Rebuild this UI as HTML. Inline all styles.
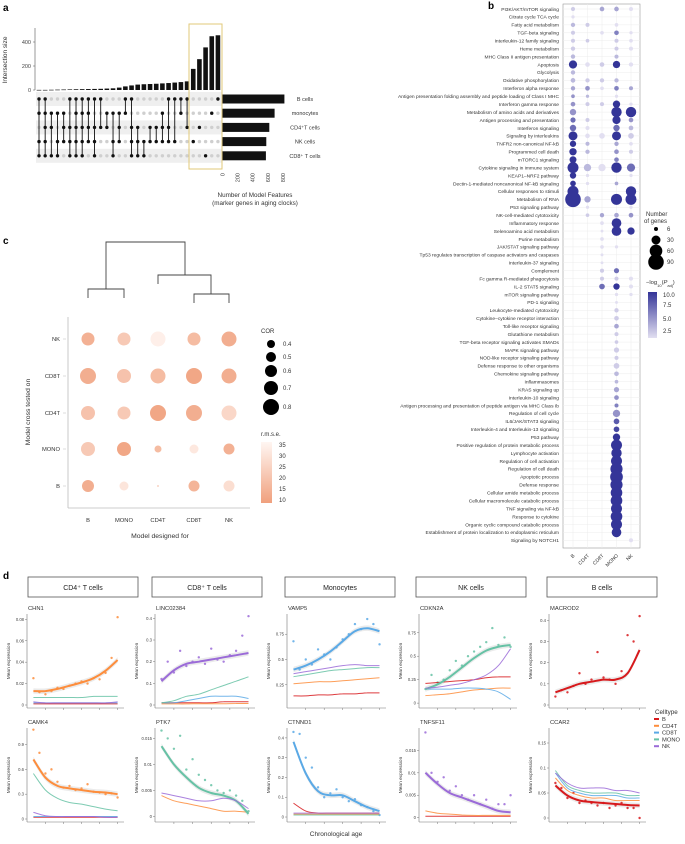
<!DOCTYPE html>
<html><head><meta charset="utf-8"><style>
body{margin:0;background:#fff}
svg{display:block;font-family:"Liberation Sans",sans-serif}
</style></head><body>
<svg id="fig" width="685" height="844" viewBox="0 0 685 844" xmlns="http://www.w3.org/2000/svg"></svg>
<script>
// ===== Panel a data =====
const aBars = [1,1,2,3,4,5,6,7,8,9,10,12,14,20,30,38,45,48,50,52,55,58,62,66,72,176,257,355,448,456];
const aSets = [[0,1,3,4],[0,1,2,3,4],[1,2,4],[1,3,4],[1,2,3],[0,2,3,4],[0,1,2,3,4],[0,1,2,3,4],[0,1,2,3],[0,2,3,4],[0,2],[1,2],[1,3,4],[1,2,3],[0,1],[0,2,3,4],[2,3,4],[3,4],[2,3],[2,3],[1,2,3],[0,2,3],[0,3],[0,1],[0,2],[3],[2],[4],[1],[0]];
const aRows = ["B cells","monocytes","CD4⁺T cells","NK cells","CD8⁺ T cells"];
const aRowTotals = [820,690,620,580,575];
const aYTicks = [0,200,400];
const aXTicks = [0,200,400,600,800];
// ===== Panel b data =====
const bTerms = ["PI3K/AKT/mTOR signaling","Citrate cycle TCA cycle","Fatty acid metabolism","TGF-beta signaling","Interleukin-12 family signaling","Heme metabolism","MHC Class II antigen presentation","Apoptosis","Glycolysis","Oxidative phosphorylation","Interferon alpha response","Antigen presentation folding assembly and peptide loading of Class I MHC","Interferon gamma response","Metabolism of amino acids and derivatives","Antigen processing and presentation","Interferon signaling","Signaling by interleukins","TNFR2 non-canonical NF-kB","Programmed cell death","mTORC1 signaling","Cytokine signaling in immune system","KEAP1–NRF2 pathway","Dectin-1-mediated noncanonical NF-kB signaling","Cellular responses to stimuli","Metabolism of RNA","P53 signaling pathway","NK-cell-mediated cytotoxicity","Inflammatory response","Selenoamino acid metabolism","Purine metabolism","JAK/STAT signaling pathway","Tp53 regulates transcription of caspase activators and caspases","Interleukin-37 signaling","Complement","Fc gamma R-mediated phagocytosis","IL-2 STAT5 signaling","mTOR signaling pathway","PD-1 signaling","Leukocyte-mediated cytotoxicity","Cytokine–cytokine receptor interaction","Toll-like receptor signaling","Glutathione metabolism","TGF-beta receptor signaling activates SMADs","MAPK signaling pathway","NOD-like receptor signaling pathway","Defense response to other organisms","Chemokine signaling pathway","Inflammasomes","KRAS signaling up","Interleukin-10 signaling","Antigen processing and presentation of peptide antigen via MHC Class Ib","Regulation of cell cycle","IL6/JAK/STAT3 signaling","Interleukin-4 and Interleukin-13 signaling","P53 pathway","Positive regulation of protein metabolic process","Lymphocyte activation","Regulation of cell activation","Regulation of cell death","Apoptotic process","Defense response","Cellular amide metabolic process","Cellular macromolecule catabolic process","TNF signaling via NF-kB","Response to cytokine","Organic cyclic compound catabolic process","Establishment of protein localization to endoplasmic reticulum","Signaling by NOTCH1"];
const bCols = ["B","CD4T","CD8T","MONO","NK"];
const bSize = [[6,0,8,8,6],[4,0,0,0,0],[7,6,0,5,0],[6,0,5,8,4],[6,5,0,6,5],[7,0,0,6,6],[7,0,0,6,0],[25,8,8,20,7],[7,0,0,0,0],[8,7,7,7,0],[7,8,5,8,6],[5,4,0,4,0],[8,6,6,20,4],[15,0,0,40,40],[10,6,0,25,8],[15,6,0,15,8],[30,8,12,30,12],[15,6,0,7,5],[20,7,0,8,6],[18,0,0,8,0],[45,20,20,40,25],[15,4,0,0,4],[12,4,0,5,0],[45,0,0,0,40],[90,15,0,45,45],[0,4,0,0,4],[0,5,7,8,8],[0,0,5,35,0],[0,0,3,35,20],[0,0,5,0,0],[0,0,5,4,0],[0,0,3,0,0],[0,0,3,0,0],[0,0,6,10,0],[0,0,6,6,6],[0,0,12,15,6],[0,0,0,4,4],[0,0,0,3,0],[0,0,0,7,0],[0,0,0,8,0],[0,0,0,8,0],[0,0,0,6,0],[0,0,0,5,0],[0,0,0,10,0],[0,0,0,6,0],[0,0,0,12,0],[0,0,0,8,0],[0,0,0,5,0],[0,0,0,10,0],[0,0,0,8,0],[0,0,0,6,0],[0,0,0,20,0],[0,0,0,12,0],[0,0,0,12,0],[0,0,0,20,0],[0,0,0,45,0],[0,0,0,40,0],[0,0,0,45,0],[0,0,0,55,0],[0,0,0,60,0],[0,0,0,55,0],[0,0,0,50,0],[0,0,0,50,0],[0,0,0,45,0],[0,0,0,50,0],[0,0,0,45,0],[0,0,0,35,0],[0,0,0,0,6]];
const bSig = [[2,0,4,4,1],[1,0,0,0,0],[3,2,0,1,0],[2,0,1,6,1],[2,2,0,2,1],[2,0,0,2,1],[3,0,0,3,0],[10,1,2,10,1],[3,0,0,0,0],[3,2,2,3,0],[4,5,1,6,4],[5,3,0,1,0],[5,2,2,10,1],[5,0,0,10,10],[7,2,0,10,5],[7,1,0,7,3],[10,1,1,10,2],[10,3,0,4,1],[10,3,0,5,2],[10,0,0,6,0],[10,3,1,10,7],[10,1,0,0,1],[10,1,0,4,0],[10,0,0,0,10],[10,4,0,10,10],[0,1,0,0,1],[0,2,4,4,5],[0,0,1,10,0],[0,0,1,10,10],[0,0,1,0,0],[0,0,1,1,0],[0,0,1,0,0],[0,0,1,0,0],[0,0,2,7,0],[0,0,2,2,1],[0,0,7,10,1],[0,0,0,1,1],[0,0,0,1,0],[0,0,0,2,0],[0,0,0,2,0],[0,0,0,4,0],[0,0,0,2,0],[0,0,0,2,0],[0,0,0,2,0],[0,0,0,2,0],[0,0,0,2,0],[0,0,0,3,0],[0,0,0,3,0],[0,0,0,4,0],[0,0,0,5,0],[0,0,0,6,0],[0,0,0,5,0],[0,0,0,8,0],[0,0,0,9,0],[0,0,0,10,0],[0,0,0,10,0],[0,0,0,10,0],[0,0,0,10,0],[0,0,0,10,0],[0,0,0,10,0],[0,0,0,10,0],[0,0,0,10,0],[0,0,0,10,0],[0,0,0,10,0],[0,0,0,10,0],[0,0,0,10,0],[0,0,0,10,0],[0,0,0,0,1]];
// ===== Panel c data =====
const cCols = ["B","MONO","CD4T","CD8T","NK"];
const cRows = ["NK","CD8T","CD4T","MONO","B"];
const cCor = [[0.65,0.65,0.75,0.65,0.75],[0.8,0.7,0.75,0.8,0.75],[0.7,0.65,0.8,0.8,0.75],[0.7,0.7,0.35,0.45,0.55],[0.6,0.45,0.1,0.55,0.55]];
const cRmse = [[15,22,33,18,14],[14,20,18,12,14],[20,22,12,14,26],[22,12,18,31,15],[14,30,25,16,28]];
// ===== Panel d data =====
const dAges = [20,30,40,50,60,70,80,90];
const dScAges = [20,25,30,35,40,45,50,55,60,65,70,75,80,85,90];
const dTypes = ["B","CD4T","CD8T","MONO","NK"];
const dColors = ["#d7191c","#fd8d3c","#5aa9e6","#66c2a5","#9b6bd8"];
const dPanels = [
 {gene:"CHN1",max:0.085,min:0,ticks:[0,0.02,0.04,0.06,0.08],hi:1,
  B:[.001,.001,.001,.001,.001,.001,.001,.001],CD4T:[.013,.013,.015,.018,.021,.025,.032,.042],CD8T:[.002,.002,.002,.002,.002,.002,.002,.002],MONO:[.007,.007,.007,.007,.007,.008,.008,.008],NK:[.003,.002,.002,.002,.002,.002,.002,.003],
  sc:[.025,.012,.010,.013,.016,.015,.018,.020,.022,.020,.025,.024,.030,.044,.082]},
 {gene:"LINC02384",max:0.42,min:0,ticks:[0,0.1,0.2,0.3,0.4],hi:4,
  B:[.01,.01,.01,.01,.01,.015,.015,.015],CD4T:[.005,.005,.005,.006,.006,.006,.007,.007],CD8T:[.01,.01,.02,.03,.04,.04,.04,.03],MONO:[.01,.02,.04,.05,.07,.09,.11,.13],NK:[.11,.16,.19,.20,.21,.22,.23,.24],
  sc:[.12,.20,.15,.25,.18,.20,.22,.19,.26,.21,.20,.23,.25,.32,.41]},
 {gene:"VAMP5",max:0.95,min:0.05,ticks:[0.25,0.5,0.75],hi:2,
  B:[.14,.14,.15,.15,.16,.16,.17,.17],CD4T:[.26,.27,.28,.28,.29,.30,.31,.32],CD8T:[.40,.44,.50,.58,.68,.78,.81,.78],MONO:[.33,.35,.37,.39,.40,.41,.42,.42],NK:[.36,.38,.40,.42,.44,.45,.44,.44],
  sc:[.68,.40,.50,.45,.60,.55,.50,.62,.70,.75,.85,.80,.90,.85,.65]},
 {gene:"CDKN2A",max:0.95,min:-0.02,ticks:[0,0.25,0.5,0.75],hi:3,
  B:[.21,.22,.23,.24,.25,.27,.28,.28],CD4T:[.08,.09,.10,.12,.14,.15,.16,.16],CD8T:[.15,.15,.15,.16,.16,.15,.12,.04],MONO:[.15,.20,.28,.38,.48,.56,.60,.62],NK:[.16,.17,.19,.21,.25,.30,.40,.58],
  sc:[.15,.30,.22,.25,.35,.45,.40,.50,.55,.60,.65,.80,.62,.70,.60]},
 {gene:"MACROD2",max:0.43,min:0,ticks:[0,0.1,0.2,0.3,0.4],hi:0,
  B:[.06,.08,.10,.11,.12,.12,.15,.26],CD4T:null,CD8T:null,MONO:null,NK:null,
  sc:[.04,.07,.06,.09,.15,.10,.12,.25,.13,.12,.10,.16,.33,.30,.42]},
 {gene:"CAMK4",max:1.1,min:0,ticks:[0,0.3,0.6,0.9],hi:1,
  B:[.02,.02,.02,.02,.02,.02,.02,.02],CD4T:[.72,.50,.40,.37,.35,.33,.32,.30],CD8T:[.03,.03,.03,.03,.03,.03,.03,.03],MONO:[.55,.35,.25,.20,.18,.15,.12,.10],NK:[.08,.04,.03,.03,.03,.03,.02,.02],
  sc:[1.08,.80,.55,.60,.45,.38,.40,.35,.37,.42,.33,.32,.30,.31,.26]},
 {gene:"PTK7",max:0.017,min:-0.0005,ticks:[0,0.005,0.010,0.015],hi:3,
  B:null,CD4T:[.004,.003,.0025,.002,.0015,.001,.001,.0008],CD8T:null,MONO:[.0135,.010,.0075,.0055,.0045,.004,.003,.0005],NK:[.0045,.004,.0035,.003,.003,.0035,.003,.0015],
  sc:[.0165,.015,.013,.0155,.009,.011,.008,.007,.006,.005,.0045,.005,.004,.003,.001]},
 {gene:"CTNND1",max:0.45,min:-0.01,ticks:[0,0.1,0.2,0.3,0.4],hi:2,
  B:[.07,.03,.02,.02,.02,.02,.02,.02],CD4T:[.015,.015,.015,.015,.015,.015,.015,.015],CD8T:[.38,.22,.13,.11,.11,.08,.05,.03],MONO:[.01,.01,.01,.01,.01,.01,.01,.01],NK:[.02,.02,.02,.02,.02,.02,.02,.02],
  sc:[.43,.42,.30,.25,.15,.10,.12,.14,.10,.08,.09,.06,.05,.03,.01]},
 {gene:"TNFSF11",max:0.02,min:-0.0003,ticks:[0,0.005,0.010,0.015],hi:4,
  B:[.0003,.0003,.0003,.0003,.0003,.0003,.0003,.0003],CD4T:[.0015,.001,.0008,.0006,.0005,.0005,.0005,.0005],CD8T:null,MONO:null,NK:[.010,.0075,.0055,.0045,.0035,.0025,.0015,.0012],
  sc:[.019,.010,.008,.009,.006,.007,.005,.004,.005,.003,.004,.002,.003,.003,.005]},
 {gene:"CCAR2",max:0.18,min:-0.002,ticks:[0,0.05,0.10,0.15],hi:0,
  B:[.065,.045,.035,.032,.030,.028,.026,.025],CD4T:[.08,.055,.045,.04,.04,.035,.035,.035],CD8T:[.09,.06,.05,.045,.045,.045,.04,.04],MONO:[.095,.065,.055,.05,.05,.05,.045,.045],NK:[.09,.07,.06,.06,.06,.055,.055,.05],
  sc:[.07,.06,.04,.05,.03,.035,.03,.025,.03,.02,.025,.03,.02,.02,.0]}
];
const dStrips = ["CD4⁺ T cells","CD8⁺ T cells","Monocytes","NK cells","B cells"];

// ===== helpers =====
const NS="http://www.w3.org/2000/svg";
const svg=document.getElementById('fig');
function mk(tag,attrs,name,parent){
  const el=document.createElementNS(NS,tag);
  for(const k in attrs) el.setAttribute(k,attrs[k]);
  
  
  (parent||svg).appendChild(el);
  return el;
}
function tx(x,y,s,size,anchor,name,extra,parent){
  const a=Object.assign({x:x,y:y,'font-size':size,'text-anchor':anchor||'start',fill:'#222'},extra||{});
  const el=mk('text',a,name,parent);
  el.textContent=s;
  return el;
}
function smooth(pts){
  let d='M'+pts[0][0].toFixed(1)+' '+pts[0][1].toFixed(1);
  for(let i=0;i<pts.length-1;i++){
    const p0=pts[Math.max(0,i-1)],p1=pts[i],p2=pts[i+1],p3=pts[Math.min(pts.length-1,i+2)];
    const c1=[p1[0]+(p2[0]-p0[0])/6,p1[1]+(p2[1]-p0[1])/6];
    const c2=[p2[0]-(p3[0]-p1[0])/6,p2[1]-(p3[1]-p1[1])/6];
    d+=`C${c1[0].toFixed(1)} ${c1[1].toFixed(1)} ${c2[0].toFixed(1)} ${c2[1].toFixed(1)} ${p2[0].toFixed(1)} ${p2[1].toFixed(1)}`;
  }
  return d;
}
tx(3,11,"a",10,"start","panel-label-a",{'font-weight':'bold',fill:'#000'});
tx(488,9,"b",10,"start","panel-label-b",{'font-weight':'bold',fill:'#000'});
tx(3,244,"c",10,"start","panel-label-c",{'font-weight':'bold',fill:'#000'});
tx(3,579,"d",10,"start","panel-label-d",{'font-weight':'bold',fill:'#000'});

// ===== Panel a =====
(function(){
  const g=mk('g',{},'upset-plot');
  const colX=i=>39+i*6.17;
  const yBar=v=>90-v*0.12;
  const rowY=r=>99+r*14.2;
  [0,2,4].forEach(r=>mk('rect',{x:36,y:rowY(r)-7,width:186,height:14,fill:'#efefef'},'matrix-row-shade',g));
  mk('line',{x1:35,y1:28,x2:35,y2:90,stroke:'#555','stroke-width':0.6},'intersection-y-axis',g);
  aYTicks.forEach(t=>{
    mk('line',{x1:33,y1:yBar(t),x2:35,y2:yBar(t),stroke:'#555','stroke-width':0.5},'y-tick',g);
    tx(31,yBar(t)+2,String(t),5.5,'end','y-tick-label',{fill:'#444'},g);
  });
  tx(7,60,"Intersection size",6.5,'middle','intersection-y-title',{transform:'rotate(-90 7 60)',fill:'#333'},g);
  aBars.forEach((v,i)=>{
    mk('rect',{x:colX(i)-2.3,y:yBar(v),width:4.6,height:Math.max(0.6,v*0.12),fill:'#111'},'intersection-bar',g);
  });
  aSets.forEach((s,i)=>{
    for(let r=0;r<5;r++){
      const on=s.includes(r);
      mk('circle',{cx:colX(i),cy:rowY(r),r:1.7,fill:on?'#111':'#cfcfcf'},on?'matrix-dot-filled':'matrix-dot-empty',g);
    }
    if(s.length>1){
      mk('line',{x1:colX(i),y1:rowY(Math.min(...s)),x2:colX(i),y2:rowY(Math.max(...s)),stroke:'#111','stroke-width':0.9},'matrix-connector',g);
    }
  });
  mk('rect',{x:189,y:24,width:33,height:145,fill:'none',stroke:'#e2c97a','stroke-width':1},'highlight-box',g);
  const xs=v=>222.5+v*0.0755;
  aRowTotals.forEach((v,r)=>{
    mk('rect',{x:222.5,y:rowY(r)-4.5,width:xs(v)-222.5,height:9,fill:'#111'},'set-size-bar',g);
    tx(305,rowY(r)+2,aRows[r],5.5,'middle','set-label',{fill:'#333'},g);
  });
  aXTicks.forEach(t=>{
    tx(xs(t)+2,173,String(t),5.5,'end','set-size-tick-label',{transform:`rotate(-90 ${xs(t)+2} 173)`,fill:'#444'},g);
  });
  tx(255,197,"Number of Model Features",6.3,'middle','set-size-axis-title',{fill:'#333'},g);
  tx(255,205,"(marker genes in aging clocks)",6.3,'middle','set-size-axis-subtitle',{fill:'#333'},g);
})();

// ===== Panel b =====
(function(){
  const g=mk('g',{},'enrichment-dotplot');
  const x0=563,x1=640,yTop=4,yBot=548;
  const colX=c=>573+c*14.5;
  const rowY=r=>9+r*7.93;
  mk('rect',{x:x0,y:yTop,width:x1-x0,height:yBot-yTop,fill:'#fff',stroke:'#999','stroke-width':0.6},'dotplot-frame',g);
  bCols.forEach((c,i)=>mk('line',{x1:colX(i),y1:yTop,x2:colX(i),y2:yBot,stroke:'#ececec','stroke-width':0.5},'grid-v',g));
  bTerms.forEach((t,r)=>{
    mk('line',{x1:x0,y1:rowY(r),x2:x1,y2:rowY(r),stroke:'#ececec','stroke-width':0.5},'grid-h',g);
    tx(559,rowY(r)+1.8,t,4.9,'end','term-label',{fill:'#333'},g);
  });
  const col=v=>{const f=Math.min(1,Math.max(0,(v-1)/9));
    const a=[226,223,241],b=[52,53,152];
    return `rgb(${a.map((q,i)=>Math.round(q+(b[i]-q)*f)).join(',')})`;};
  bSize.forEach((row,r)=>row.forEach((n,c)=>{
    if(n>0) mk('circle',{cx:colX(c),cy:rowY(r),r:0.82*Math.sqrt(n),fill:col(bSig[r][c])},'enrichment-dot',g);
  }));
  bCols.forEach((c,i)=>tx(colX(i)+2,556,c,5,'end','celltype-x-label',{transform:`rotate(-45 ${colX(i)+2} 556)`,fill:'#333'},g));
  tx(646,216,"Number",6,'start','size-legend-title',{fill:'#333'},g);
  tx(644,223,"of genes",6,'start','size-legend-title2',{fill:'#333'},g);
  [6,30,60,90].forEach((n,i)=>{
    const y=229+i*11;
    mk('circle',{cx:656,cy:y,r:0.82*Math.sqrt(n),fill:'#000'},'size-legend-dot',g);
    tx(667,y+2.2,String(n),6,'start','size-legend-label',{fill:'#333'},g);
  });
  const lt=mk('text',{x:646,y:284,'font-size':5.8,fill:'#333'},'color-legend-title',g);
  const parts=[["−log",0,5.8],["10",1.5,4],["(",0,5.8],["P",0,5.8],["adj",1.5,4],[")",0,5.8]];
  parts.forEach(p=>{const s=mk('tspan',{dy:0,'font-size':p[2],'baseline-shift':p[1]?'sub':'baseline','font-style':p[0]==='P'?'italic':'normal'},'legend-title-part',lt); s.textContent=p[0];});
  const gr=mk('linearGradient',{id:'bgrad',x1:0,y1:0,x2:0,y2:1},'gradient',mk('defs',{},'defs',g));
  mk('stop',{offset:'0',"stop-color":col(10)},'stop',gr);
  mk('stop',{offset:'1',"stop-color":col(1)},'stop',gr);
  mk('rect',{x:648,y:292,width:9,height:46,fill:'url(#bgrad)'},'color-legend-bar',g);
  [["10.0",295],["7.5",305],["5.0",319],["2.5",331]].forEach(a=>tx(663,a[1]+2,a[0],6,'start','color-legend-label',{fill:'#333'},g));
})();

// ===== Panel c =====
(function(){
  const g=mk('g',{},'cross-test-plot');
  const colX=[88,124,158,194,229];
  const rowY=[339,376,413,449,486];
  const st={stroke:'#444','stroke-width':0.9,fill:'none'};
  const dp=(d)=>mk('path',Object.assign({d:d},st),'dendrogram-branch',g);
  dp(`M106 289V242H185V275`);
  dp(`M88 298V289H124V298`);
  dp(`M158 284V275H211V294`);
  dp(`M194 303V294H229V303`);
  mk('line',{x1:68,y1:317,x2:68,y2:508,stroke:'#bbb','stroke-width':0.8},'y-axis',g);
  mk('line',{x1:68,y1:508,x2:250,y2:508,stroke:'#bbb','stroke-width':0.8},'x-axis',g);
  const rc=v=>{const f=Math.min(1,Math.max(0,(v-10)/25));
    const a=[240,160,125],b=[255,246,242];
    return `rgb(${a.map((q,i)=>Math.round(q+(b[i]-q)*f)).join(',')})`;};
  cRows.forEach((r,i)=>{
    tx(60,rowY[i]+2,r,5.8,'end','row-label',{fill:'#333'},g);
    mk('line',{x1:63,y1:rowY[i],x2:66,y2:rowY[i],stroke:'#bbb','stroke-width':0.5},'y-tick',g);
    cCols.forEach((c,j)=>mk('circle',{cx:colX[j],cy:rowY[i],r:10*cCor[i][j],fill:rc(cRmse[i][j])},'cor-dot',g));
  });
  cCols.forEach((c,j)=>tx(colX[j],522,c,5.8,'middle','col-label',{fill:'#333'},g));
  tx(160,538,"Model designed for",6.8,'middle','x-axis-title',{fill:'#333'},g);
  tx(30,412,"Model cross tested on",6.8,'middle','y-axis-title',{transform:'rotate(-90 30 412)',fill:'#333'},g);
  tx(261,333,"COR",6,'start','cor-legend-title',{fill:'#333'},g);
  [[0.4,344],[0.5,357],[0.6,371],[0.7,388],[0.8,407]].forEach(a=>{
    mk('circle',{cx:271,cy:a[1],r:10*a[0]},'cor-legend-dot',g);
    tx(283,a[1]+2,String(a[0]),6,'start','cor-legend-label',{fill:'#333'},g);
  });
  tx(261,436,"r.m.s.e.",6,'start','rmse-legend-title',{fill:'#333'},g);
  const gr=mk('linearGradient',{id:'cgrad',x1:0,y1:0,x2:0,y2:1},'gradient',mk('defs',{},'defs',g));
  mk('stop',{offset:'0',"stop-color":rc(36)},'stop',gr);
  mk('stop',{offset:'1',"stop-color":rc(9)},'stop',gr);
  mk('rect',{x:261,y:442,width:11,height:61,fill:'url(#cgrad)'},'rmse-legend-bar',g);
  [35,30,25,20,15,10].forEach((v,i)=>tx(279,445+i*11+2,String(v),6,'start','rmse-legend-label',{fill:'#333'},g));
})();

// ===== Panel d =====
(function(){
  const g=mk('g',{},'expression-panels');
  const boxes=[[28,138],[152,262],[285,395],[416,526],[547,657]];
  dStrips.forEach((s,i)=>{
    mk('rect',{x:boxes[i][0],y:577,width:boxes[i][1]-boxes[i][0],height:20,fill:'#fff',stroke:'#555','stroke-width':0.8},'strip-box',g);
    tx((boxes[i][0]+boxes[i][1])/2,590,s,7,'middle','strip-label',{fill:'#222'},g);
  });
  const axX=[[27,124],[155,255],[287,386],[419,517],[549,646]];
  const rows=[[614,708],[728,822]];
  dPanels.forEach((p,k)=>{
    const ci=k%5, ri=Math.floor(k/5);
    const [xa,xb]=axX[ci], [ya,yb]=rows[ri];
    const sx=a=>xa+4+(a-18)/(92-18)*(xb-xa-8);
    const sy=v=>yb-3-(v-p.min)/(p.max-p.min)*(yb-ya-3);
    const pg=mk('g',{},'panel-'+p.gene,g);
    mk('line',{x1:xa,y1:ya,x2:xa,y2:yb,stroke:'#777','stroke-width':0.6},'y-axis',pg);
    mk('line',{x1:xa,y1:yb,x2:xb,y2:yb,stroke:'#777','stroke-width':0.6},'x-axis',pg);
    [30,45,60,75,90].forEach(a=>mk('line',{x1:sx(a),y1:yb,x2:sx(a),y2:yb+2,stroke:'#777','stroke-width':0.5},'x-tick',pg));
    p.ticks.forEach(t=>{
      mk('line',{x1:xa-2,y1:sy(t),x2:xa,y2:sy(t),stroke:'#777','stroke-width':0.5},'y-tick',pg);
      tx(xa-3,sy(t)+1.5,String(t),4.2,'end','y-tick-label',{fill:'#444'},pg);
    });
    tx(xa+1,ya-4,p.gene,5.8,'start','gene-title',{fill:'#333'},pg);
    const ym=(ya+yb)/2;
    tx(xa-17,ym,"Mean expression",4.8,'middle','y-axis-title',{transform:`rotate(-90 ${xa-17} ${ym})`,fill:'#333'},pg);
    // ribbon for highlighted series
    const hv=p[dTypes[p.hi]];
    const band=(p.max-p.min)*0.03;
    const up=hv.map((v,i)=>[sx(dAges[i]),sy(v+band)]);
    const lo=hv.map((v,i)=>[sx(dAges[i]),sy(v-band)]).reverse();
    mk('path',{d:smooth(up)+smooth(lo).replace('M','L')+'Z',fill:'#e6e6e6',opacity:0.8},'confidence-ribbon',pg);
    p.sc.forEach((v,i)=>mk('circle',{cx:sx(dScAges[i]),cy:sy(v),r:1.2,fill:dColors[p.hi],opacity:0.85},'scatter-point',pg));
    dTypes.forEach((t,ti)=>{
      const vals=p[t]; if(!vals) return;
      const pts=vals.map((v,i)=>[sx(dAges[i]),sy(v)]);
      mk('path',{d:smooth(pts),fill:'none',stroke:dColors[ti],'stroke-width':ti===p.hi?2:1,'stroke-linejoin':'round',opacity:ti===p.hi?1:0.85},'trend-'+t,pg);
    });
  });
  tx(336,836,"Chronological age",6.5,'middle','x-axis-title',{fill:'#333'},g);
  tx(655,714,"Celltype",6.3,'start','legend-title',{fill:'#333'},g);
  dTypes.forEach((t,i)=>{
    const y=719+i*6.8;
    mk('rect',{x:654,y:y-1,width:5,height:2,fill:dColors[i]},'legend-swatch',g);
    tx(662,y+2,t,5.8,'start','legend-entry',{fill:'#333'},g);
  });
})();
</script>
</body></html>
